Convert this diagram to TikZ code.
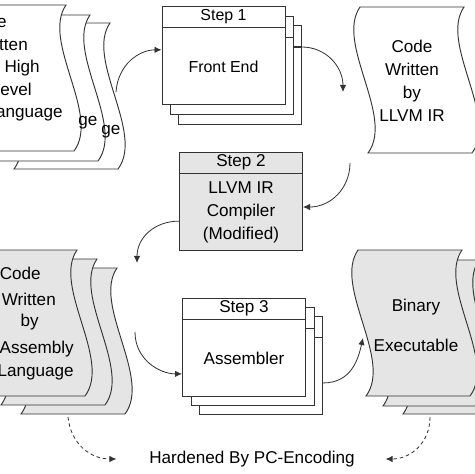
\documentclass[tikz,border=0pt]{standalone}
\usepackage{fontspec}
\setmainfont{Liberation Sans}
\usetikzlibrary{arrows.meta, positioning}
\definecolor{pagegray}{gray}{0.9}
\definecolor{linegray}{gray}{0.2}

\begin{document}
\begin{tikzpicture}[
    x=0.03cm, y=-0.03cm,
    txt/.style={font=\fontsize{14.6}{19.6}\selectfont, inner sep=0pt},
    hd/.style={draw=linegray, line width=0.8pt, fill=white, minimum width=3.69cm, minimum height=0.63cm, inner sep=0pt, font=\fontsize{14.6}{19.6}\selectfont},
    bd/.style={draw=linegray, line width=0.8pt, fill=white, minimum width=3.69cm, minimum height=2.31cm, inner sep=0pt, align=center, font=\fontsize{14.6}{19.6}\selectfont},
    small/.style={font=\fontsize{13.6}{18}\selectfont},
    page/.pic={\draw[line width=0.8pt, draw=linegray, pic actions] (0,0) -- (104,0) .. controls (79,36) and (139,110) .. (112,146) -- (8,146) .. controls (35,110) and (-25,36) .. cycle;},
    arr/.style={-{Latex[length=6pt, width=5.5pt]}, line width=0.7pt, draw=linegray},
    darr/.style={arr, dash pattern=on 3pt off 2.5pt},
]
    \useasboundingbox (0,0) rectangle (474,474);

    % source code pages
    \pic[fill=white] at (6,23) {page};
    \pic[fill=white] at (-14,15) {page};
    \pic[fill=white] at (-38,5) {page};
    \node[txt, anchor=base] (hl3) at (111,134) {ge};
    \node[txt, anchor=base] (hl2) at (88,125) {ge};
    \node[txt, anchor=base east] (hl1a) at (7,27) {Code};
    \node[txt, anchor=base east] (hl1b) at (28,50) {Written};
    \node[txt, anchor=base east] (hl1c) at (40,72) {in High};
    \node[txt, anchor=base east] (hl1d) at (32,95) {Level};
    \node[txt, anchor=base east] (hl1e) at (63,117) {Language};

    % step 1
    \node[hd, small] (s1h3) at (239.5,36) {};
    \node[bd, small, below=0pt of s1h3] (s1c) {};
    \node[hd, small] (s1h2) at (231.5,26.5) {};
    \node[bd, small, below=0pt of s1h2] (s1b2) {};
    \node[hd, small] (s1h) at (223.5,16.5) {Step 1};
    \node[bd, small, below=0pt of s1h] (s1b) {Front End};

    % llvm ir page
    \pic[fill=white] at (360,7) {page};
    \node[txt, align=center] (ir) at (412,80.5) {Code\\Written\\by\\LLVM IR};

    % step 2
    \node[hd, fill=pagegray] (s2h) at (241,162.5) {Step 2};
    \node[bd, fill=pagegray, below=0pt of s2h] (s2b) {LLVM IR\\Compiler\\(Modified)};

    % assembly pages
    \pic[fill=pagegray] at (13,268) {page};
    \pic[fill=pagegray] at (-7,259) {page};
    \pic[fill=pagegray] at (-27,250) {page};
    \node[txt, anchor=base east] (asa) at (41,279) {Code};
    \node[txt, anchor=base east] (asb) at (56,305) {Written};
    \node[txt, anchor=base east] (asc) at (39,326) {by};
    \node[txt, anchor=base east] (asd) at (74,353) {Assembly};
    \node[txt, anchor=base east] (ase) at (74,376) {Language};

    % step 3
    \node[hd] (s3h3) at (261,326.5) {};
    \node[bd, below=0pt of s3h3] (s3c) {};
    \node[hd] (s3h2) at (252.5,317.5) {};
    \node[bd, below=0pt of s3h2] (s3b2) {};
    \node[hd] (s3h) at (244,308.5) {Step 3};
    \node[bd, below=0pt of s3h] (s3b) {Assembler};

    % binary pages
    \pic[fill=pagegray] at (395,268) {page};
    \pic[fill=pagegray] at (375,260) {page};
    \pic[fill=pagegray] at (358,250) {page};
    \node[txt, align=center] (bin) at (416,325) {Binary\\[14.5pt]Executable};

    \node[txt] (hb) at (252,459) {Hardened By PC-Encoding};

    \coordinate (tlo) at (116,92);
    \coordinate (irt) at (343,92);
    \coordinate (irb) at (350,163);
    \coordinate (blt) at (137,263);
    \coordinate (blo) at (135,332);
    \coordinate (bint) at (363,338);
    \coordinate (blb) at (68,417);
    \coordinate (binb) at (430,417);

    \draw[arr] (tlo) .. controls +(2,-28) and +(-22,0) .. (s1b.165);
    \draw[arr] (s1c.north east) .. controls +(25,0) and +(0,-25) .. (irt);
    \draw[arr] (irb) .. controls +(0,25) and +(28,0) .. (s2b.5);
    \draw[arr] (s2b.188) .. controls +(-25,0) and +(0,-25) .. (blt);
    \draw[arr] (blo) .. controls +(0,28) and +(-22,0) .. (s3b.194);
    \draw[arr] (s3c.-6) .. controls +(28,0) and +(-5,22) .. (bint);
    \draw[darr] (blb) .. controls +(3,28) and +(-25,0) .. ([xshift=-0.98cm]hb.west);
    \draw[darr] (binb) .. controls +(0,26) and +(25,0) .. ([xshift=0.92cm]hb.east);
\end{tikzpicture}
\end{document}
